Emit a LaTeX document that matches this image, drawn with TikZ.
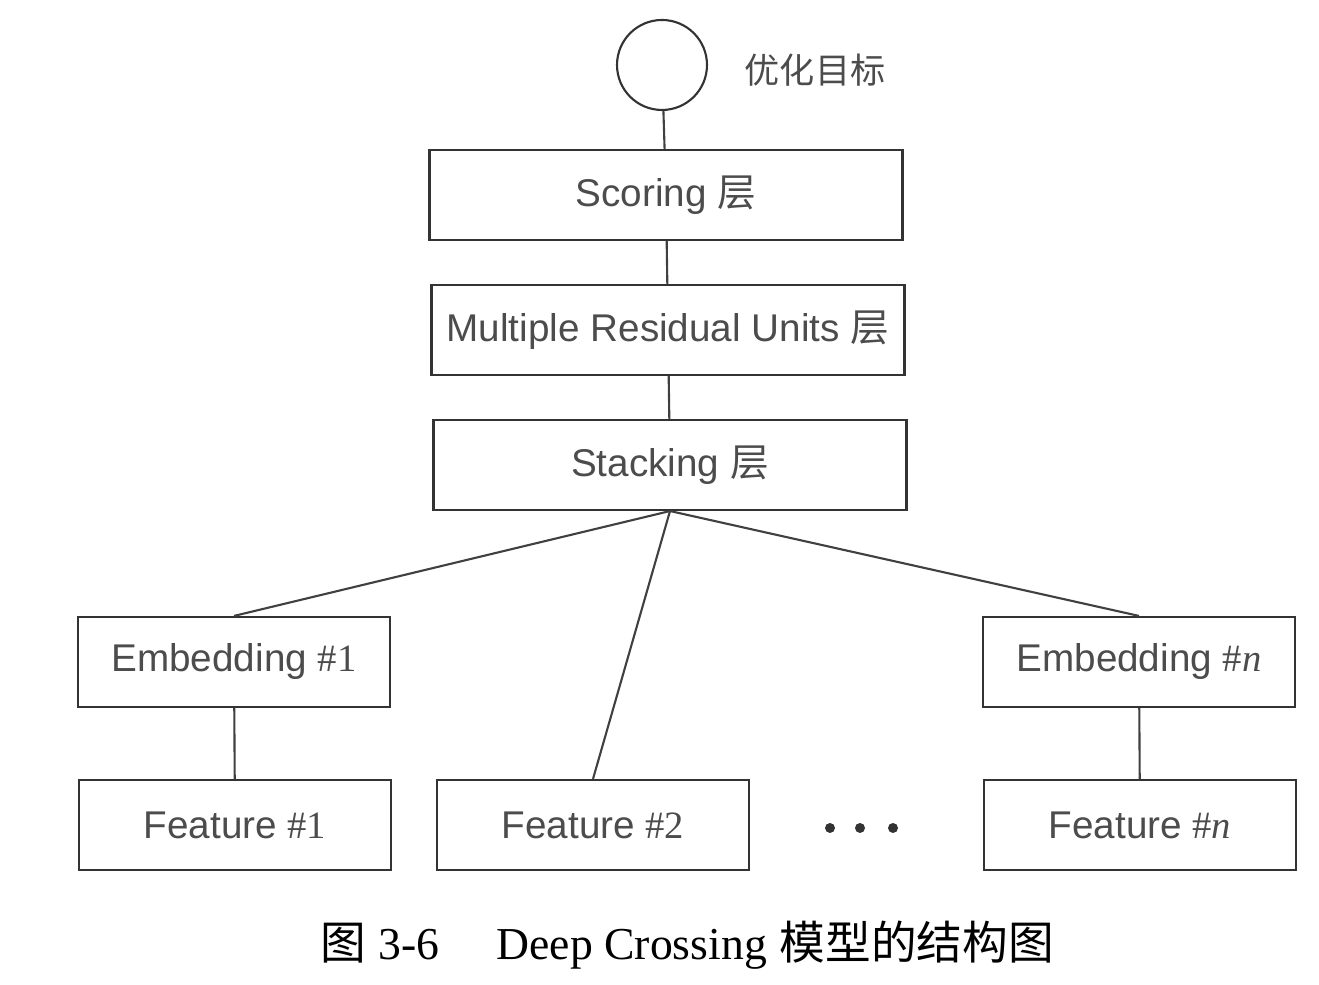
\documentclass[tikz,border=0pt]{standalone}
\usepackage{fontspec}
\setmainfont{Liberation Sans}
\newfontfamily\cjk{Noto Sans CJK SC}
\newfontfamily\serifnum{Liberation Serif}
\usetikzlibrary{positioning}
\tikzset{
  layer/.style={draw=black!80,very thick,minimum width=9.46cm,minimum height=1.8cm,font=\fontsize{22}{26}\selectfont,text=black!70},
  feat/.style={draw=black!80,very thick,minimum width=6.24cm,minimum height=1.8cm,font=\fontsize{22}{26}\selectfont,text=black!70},
  link/.style={draw=black!75,very thick},
  dot/.style={circle,fill=black!80,inner sep=0pt,minimum size=0.2cm}
}
\newcommand{\ceng}{{\cjk 层}}
\newcommand{\idx}[1]{{\serifnum #1}}
\begin{document}
\begin{tikzpicture}
\useasboundingbox (0,0) rectangle (26.38,19.7);

% top
\node[circle,draw=black!80,very thick,minimum size=1.8cm] (goal) at (13.24,18.4) {};
\node[font=\cjk\fontsize{20}{24}\selectfont,text=black!70] (goaltxt) at (16.3,18.3) {优化目标};

% layers
\node[layer] (scoring) at (13.32,15.8) {Scoring \ceng};
\node[layer] (mru) at (13.36,13.1) {Multiple Residual Units \ceng};
\node[layer] (stacking) at (13.4,10.4) {Stacking \ceng};

% embeddings and features
\node[feat] (emb1) at (4.68,6.46) {Embedding \idx{\#1}};
\node[feat] (embn) at (22.78,6.46) {Embedding \idx{\#\textit{n}}};
\node[feat] (feat1) at (4.7,3.2) {Feature \idx{\#1}};
\node[feat] (feat2) at (11.86,3.2) {Feature \idx{\#2}};
\node[feat] (featn) at (22.8,3.2) {Feature \idx{\#\textit{n}}};
\node[dot] (dota) at (16.6,3.14) {};
\node[dot] (dotb) at (17.2,3.14) {};
\node[dot] (dotc) at (17.86,3.14) {};

\draw[link] (goal) -- (scoring);
\draw[link] (scoring) -- (mru);
\draw[link] (mru) -- (stacking);
\draw[link] (stacking.south) -- (emb1.north);
\draw[link] (stacking.south) -- (feat2.north);
\draw[link] (stacking.south) -- (embn.north);
\draw[link] (emb1) -- (feat1);
\draw[link] (embn) -- (featn);

% caption
\node[font=\fontsize{26}{30}\selectfont] (caption) at (13.74,0.8)
  {{\cjk 图} {\serifnum 3-6\quad\ Deep Crossing} {\cjk 模型的结构图}};
\end{tikzpicture}
\end{document}
